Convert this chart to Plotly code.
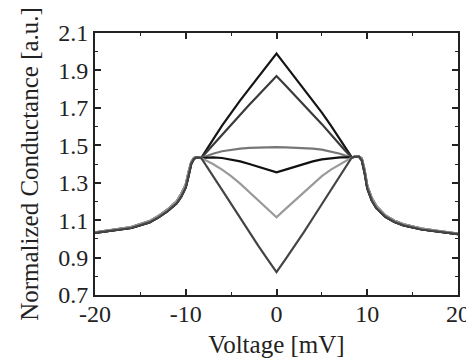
import plotly.graph_objects as go

# Voltage grid [mV]
v_left = [-20, -18, -16, -14, -13, -12, -11, -10.5, -10, -9.7, -9.4, -9.1, -8.8]
v_inner = [-8.3, -7.5, -7, -6, -5, -4, -3, -2, -1, 0, 1, 2, 3, 4, 5, 6, 7, 7.5, 8.3]
v_right = [8.8, 9.1, 9.4, 9.7, 10, 10.5, 11, 12, 13, 14, 16, 18, 20]

# shared outer tails (two slightly different variants)
tail_left_a = [1.032, 1.043, 1.058, 1.088, 1.115, 1.148, 1.19, 1.225, 1.275, 1.335, 1.40, 1.428, 1.435]
tail_left_b = [1.035, 1.047, 1.063, 1.095, 1.123, 1.157, 1.20, 1.24, 1.29, 1.355, 1.41, 1.432, 1.437]
tail_right_a = [1.44, 1.438, 1.42, 1.355, 1.27, 1.205, 1.165, 1.118, 1.09, 1.072, 1.05, 1.036, 1.025]
tail_right_b = [1.442, 1.44, 1.43, 1.37, 1.285, 1.218, 1.176, 1.125, 1.097, 1.078, 1.055, 1.04, 1.028]

# inner (gap) region of each curve
inner_a = [1.432, 1.495, 1.530, 1.605, 1.675, 1.740, 1.803, 1.864, 1.927, 1.99, 1.927, 1.864, 1.803, 1.740, 1.675, 1.605, 1.530, 1.495, 1.435]
inner_b = [1.432, 1.475, 1.500, 1.558, 1.613, 1.665, 1.716, 1.768, 1.819, 1.87, 1.819, 1.768, 1.716, 1.665, 1.613, 1.558, 1.500, 1.475, 1.435]
inner_c = [1.432, 1.446, 1.455, 1.468, 1.477, 1.482, 1.486, 1.488, 1.489, 1.49, 1.489, 1.488, 1.486, 1.482, 1.477, 1.468, 1.455, 1.446, 1.435]
inner_d = [1.432, 1.435, 1.435, 1.432, 1.425, 1.414, 1.40, 1.385, 1.37, 1.356, 1.37, 1.385, 1.40, 1.414, 1.425, 1.432, 1.435, 1.435, 1.435]
inner_e = [1.432, 1.414, 1.40, 1.37, 1.335, 1.295, 1.25, 1.205, 1.16, 1.115, 1.16, 1.205, 1.25, 1.295, 1.335, 1.37, 1.40, 1.414, 1.435]
inner_f = [1.432, 1.375, 1.337, 1.262, 1.187, 1.110, 1.035, 0.962, 0.892, 0.822, 0.892, 0.962, 1.035, 1.110, 1.187, 1.262, 1.337, 1.375, 1.435]

voltage = v_left + v_inner + v_right
curves = [
    ("a", tail_left_a + inner_a + tail_right_a, "#151515"),
    ("b", tail_left_b + inner_b + tail_right_b, "#3a3a3a"),
    ("c", tail_left_b + inner_c + tail_right_b, "#777777"),
    ("d", tail_left_a + inner_d + tail_right_a, "#111111"),
    ("e", tail_left_b + inner_e + tail_right_b, "#9a9a9a"),
    ("f", tail_left_a + inner_f + tail_right_a, "#444444"),
]

x_ticks = [-20, -10, 0, 10, 20]
y_ticks = [0.7, 0.9, 1.1, 1.3, 1.5, 1.7, 1.9, 2.1]
y_tick_text = ["0.7", "0.9", "1.1", "1.3", "1.5", "1.7", "1.9", "2.1"]

fig = go.Figure()
for name, g, col in curves:
    fig.add_trace(go.Scatter(x=voltage, y=g, mode="lines", name=name,
                             line=dict(color=col, width=2.2), showlegend=False))

font = "Liberation Serif, Times New Roman, serif"
fig.update_layout(
    width=474, height=362,
    margin=dict(l=87, r=12, t=16, b=75),
    paper_bgcolor="white", plot_bgcolor="white",
    font=dict(family=font, color="#222", size=24),
)
fig.update_xaxes(
    range=[-20, 20], tickvals=x_ticks, ticktext=[str(t) for t in x_ticks],
    ticks="inside", ticklen=6, tickwidth=1.5, tickcolor="#222",
    minor=dict(ticks="inside", ticklen=3, tickwidth=1.2, tickcolor="#222", dtick=5, tick0=0),
    showline=True, linewidth=2, linecolor="#222", mirror="ticks",
    showgrid=False, zeroline=False,
    tickfont=dict(size=24), ticklabelstandoff=-4,
    title=dict(text="Voltage [mV]", font=dict(size=25), standoff=10),
)
fig.update_yaxes(
    range=[0.7, 2.1], tickvals=y_ticks, ticktext=y_tick_text,
    ticks="inside", ticklen=6, tickwidth=1.5, tickcolor="#222",
    minor=dict(ticks="inside", ticklen=3, tickwidth=1.2, tickcolor="#222", dtick=0.1, tick0=0.7),
    showline=True, linewidth=2, linecolor="#222", mirror="ticks",
    showgrid=False, zeroline=False,
    tickfont=dict(size=24),
    title=dict(text="Normalized Conductance [a.u.]", font=dict(size=25), standoff=12),
)
fig.write_html("out.html")
